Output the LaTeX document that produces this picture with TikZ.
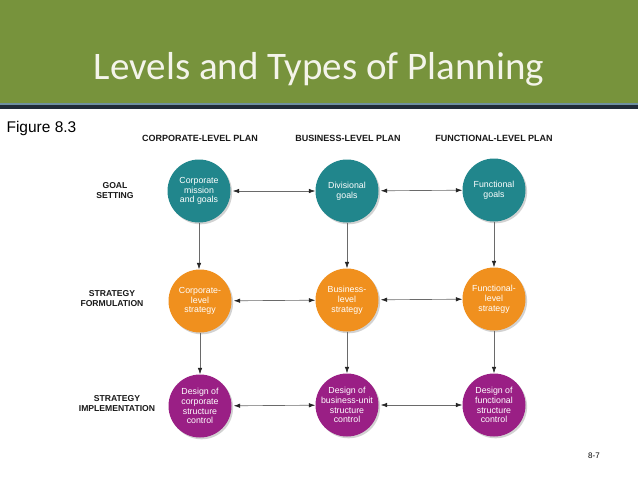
\documentclass[tikz,border=0pt]{standalone}
\usepackage{fontspec}
\setmainfont{Liberation Sans}
\newfontfamily\titlefont{Carlito}
\usetikzlibrary{arrows.meta,shadows}
\definecolor{hdrgreen}{HTML}{77933C}
\definecolor{hdrdark}{HTML}{1F2B38}
\definecolor{hdrline}{HTML}{6E8FA0}
\definecolor{tealc}{HTML}{21868C}
\definecolor{orangec}{HTML}{F0901E}
\definecolor{purplec}{HTML}{9A1F85}
\definecolor{arrowgray}{HTML}{6A6A6A}
\tikzset{
  bubble/.style={circle, minimum size=63pt, inner sep=0pt, text=white, align=center,
    font=\fontsize{8.8}{9.8}\selectfont,
    drop shadow={opacity=0.35, shadow xshift=1.6pt, shadow yshift=-1.8pt}},
  goal/.style={bubble, fill=tealc},
  strat/.style={bubble, fill=orangec},
  impl/.style={bubble, fill=purplec},
  colhead/.style={font=\bfseries\fontsize{9}{10}\selectfont, text=black!90},
  rowhead/.style={font=\bfseries\fontsize{8.6}{10}\selectfont, text=black!90, align=center},
  link/.style={draw=arrowgray, line width=0.65pt},
  tip/.style={-{Latex[length=6.5pt,width=4.5pt,color=black!85]}},
  dtip/.style={{Latex[length=6.5pt,width=4.5pt,color=black!85]}-{Latex[length=6.5pt,width=4.5pt,color=black!85]}}
}
\begin{document}
\begin{tikzpicture}[x=1pt,y=-1pt]
\useasboundingbox (0,0) rectangle (638,479);
\fill[white] (0,0) rectangle (638,479);
% header
\fill[hdrgreen] (0,0) rectangle (638,103);
\fill[hdrline] (0,103) rectangle (638,105);
\fill[hdrdark] (0,105) rectangle (638,109);
\node (title) at (319,69) {\titlefont\fontsize{39}{44}\selectfont\color[HTML]{F4F4EA}Levels and Types of Planning};
\node[anchor=west] (fig) at (3,128) {\fontsize{15.5}{17}\selectfont Figure 8.3};
% column headers
\node[colhead] (h1) at (200,138) {CORPORATE-LEVEL PLAN};
\node[colhead] (h2) at (348,138) {BUSINESS-LEVEL PLAN};
\node[colhead] (h3) at (494,138) {FUNCTIONAL-LEVEL PLAN};
% row headers
\node[rowhead] (r1) at (115,191) {GOAL\\SETTING};
\node[rowhead] (r2) at (112,299) {STRATEGY\\FORMULATION};
\node[rowhead] (r3) at (117,404) {STRATEGY\\IMPLEMENTATION};
% circles
\node[goal] (g1) at (199,191) {Corporate\\mission\\and goals};
\node[goal] (g2) at (347,191) {Divisional\\goals};
\node[goal] (g3) at (494,190) {Functional\\goals};
\node[strat] (s1) at (200,301) {Corporate-\\level\\strategy};
\node[strat] (s2) at (347,300) {Business-\\level\\strategy};
\node[strat] (s3) at (494,299) {Functional-\\level\\strategy};
\node[impl] (i1) at (200,406) {Design of\\corporate\\structure\\control};
\node[impl] (i2) at (347,405) {Design of\\business-unit\\structure\\control};
\node[impl] (i3) at (494,405) {Design of\\functional\\structure\\control};
% horizontal arrows
\draw[link,dtip,shorten <=2pt] (g1) -- (g2);
\draw[link,dtip,shorten <=2pt] (g2) -- (g3);
\draw[link,dtip,shorten <=2pt] (s1) -- (s2);
\draw[link,dtip,shorten <=2pt] (s2) -- (s3);
\draw[link,dtip,shorten <=2pt] (i1) -- (i2);
\draw[link,dtip,shorten <=2pt] (i2) -- (i3);
% vertical arrows
\draw[link,tip] (g1.south) -- (g1.south |- s1.north);
\draw[link,tip] (s1.south) -- (s1.south |- i1.north);
\draw[link,tip] (g2.south) -- (g2.south |- s2.north);
\draw[link,tip] (s2.south) -- (s2.south |- i2.north);
\draw[link,tip] (g3.south) -- (g3.south |- s3.north);
\draw[link,tip] (s3.south) -- (s3.south |- i3.north);
% page number
\node (pg) at (594,456) {\fontsize{8}{9}\selectfont 8-7};
\end{tikzpicture}
\end{document}
